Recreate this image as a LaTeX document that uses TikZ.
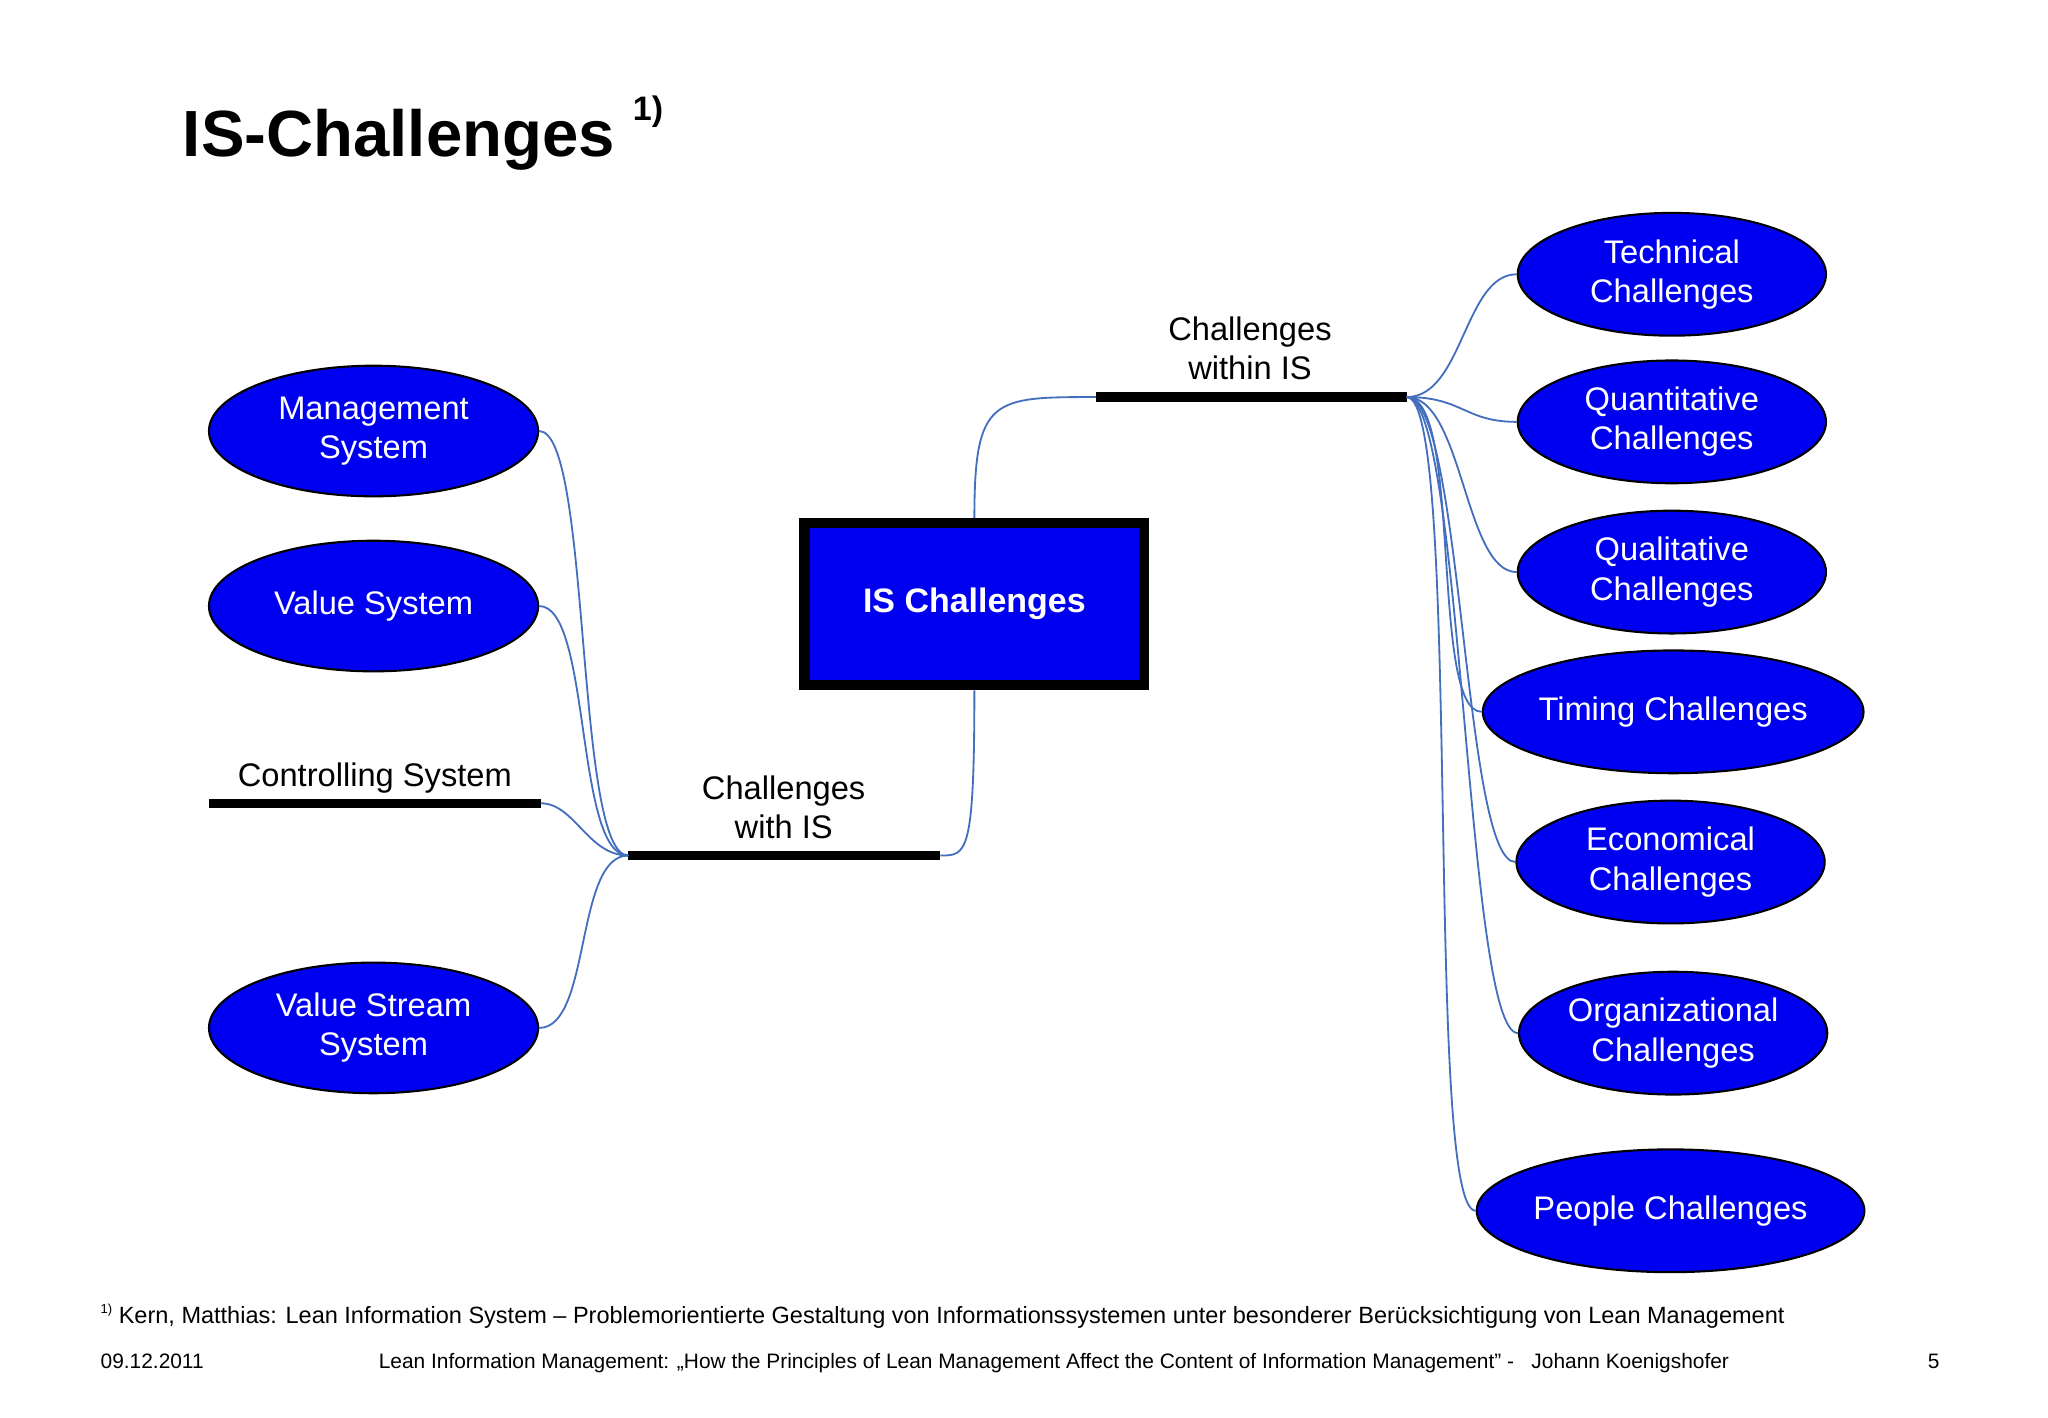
\documentclass[tikz,border=0pt]{standalone}
\usepackage{fontspec}
\setmainfont{Liberation Sans}
\usetikzlibrary{shapes.geometric,calc}
\definecolor{nodeblue}{RGB}{0,0,240}
\definecolor{linkblue}{RGB}{68,110,190}
\begin{document}
\begin{tikzpicture}[x=0.5pt,y=-0.5pt,
  lell/.style={ellipse,draw=black,line width=0.8pt,fill=nodeblue,text=white,align=center,inner sep=0pt,minimum width=126pt,minimum height=50pt,font=\fontsize{12.5}{15}\selectfont},
  rell/.style={ellipse,draw=black,line width=0.8pt,fill=nodeblue,text=white,align=center,inner sep=0pt,minimum width=118pt,minimum height=47pt,font=\fontsize{12.5}{15}\selectfont},
  bar/.style={line width=3.5pt,black},
  lbl/.style={align=center,font=\fontsize{12.5}{15}\selectfont},
  link/.style={linkblue,line width=0.7pt}]
\useasboundingbox (0,0) rectangle (1568,1085);
\node[anchor=base west,font=\fontsize{25}{30}\selectfont\bfseries] (title) at (133,120) {IS-Challenges \raisebox{0.55em}{\fontsize{13}{15}\selectfont 1)}};
% left
\node[lell] (ms) at (286,330) {Management\\System};
\node[lell] (vs) at (286,464) {Value System};
\node[lell] (vss) at (286,787) {Value Stream\\System};
\coordinate (csl) at (160,615); \coordinate (csr) at (414,615);
\draw[bar] (csl) -- (csr);
\node[lbl,anchor=base] (cst) at (287,602) {Controlling System};
\coordinate (cwl) at (481,655); \coordinate (cwr) at (720,655);
\draw[bar] (cwl) -- (cwr);
\node[lbl] (cwt) at (600,618) {Challenges\\with IS};
% center
\node[draw=black,line width=4pt,fill=nodeblue,text=white,minimum width=130pt,minimum height=62pt,font=\fontsize{13}{15}\selectfont\bfseries] (isc) at (746,462.5) {IS Challenges};
\coordinate (cil) at (839,304); \coordinate (cir) at (1077,304);
\draw[bar] (cil) -- (cir);
\node[lbl] (cit) at (957,267) {Challenges\\within IS};
% right
\node[rell] (t) at (1280,210) {Technical\\Challenges};
\node[rell] (qn) at (1280,323) {Quantitative\\Challenges};
\node[rell] (ql) at (1280,438) {Qualitative\\Challenges};
\node[rell] (tm) at (1281,545) {Timing Challenges};
\node[rell] (ec) at (1279,660) {Economical\\Challenges};
\node[rell] (or) at (1281,791) {Organizational\\Challenges};
\node[rell] (pp) at (1279,927) {People Challenges};
% links left
\foreach \n in {ms,vs,vss}
  \draw[link] (\n.east) .. controls ($(\n.east)+(40,0)$) and (440,655) .. (cwl);
\draw[link] (csr) .. controls (440,615) and (450,655) .. (cwl);
\draw[link] (isc.south) .. controls (746,655) and (740,655) .. (cwr);
\draw[link] (isc.north) .. controls (746,304) and (760,304) .. (cil);
\foreach \n in {t,qn,ql,tm,ec,or,pp}
  \draw[link] (cir) .. controls (1120,304) and ($(\n.west)+(-40,0)$) .. (\n.west);
% footer
\node[anchor=base west,font=\fontsize{9}{11}\selectfont] (fn) at (70,1013) {\raisebox{0.4em}{\fontsize{5}{6}\selectfont 1)} Kern, Matthias: Lean Information System – Problemorientierte Gestaltung von Informationssystemen unter besonderer Berücksichtigung von Lean Management};
\node[anchor=base west,font=\fontsize{8}{10}\selectfont] (d) at (70,1048) {09.12.2011};
\node[anchor=base west,font=\fontsize{8}{10}\selectfont] (ft) at (283,1048) {Lean Information Management: „How the Principles of Lean Management Affect the Content of Information Management" -\ \ \ Johann Koenigshofer};
\node[anchor=base east,font=\fontsize{8}{10}\selectfont] (pg) at (1492,1048) {5};
\end{tikzpicture}
\end{document}
